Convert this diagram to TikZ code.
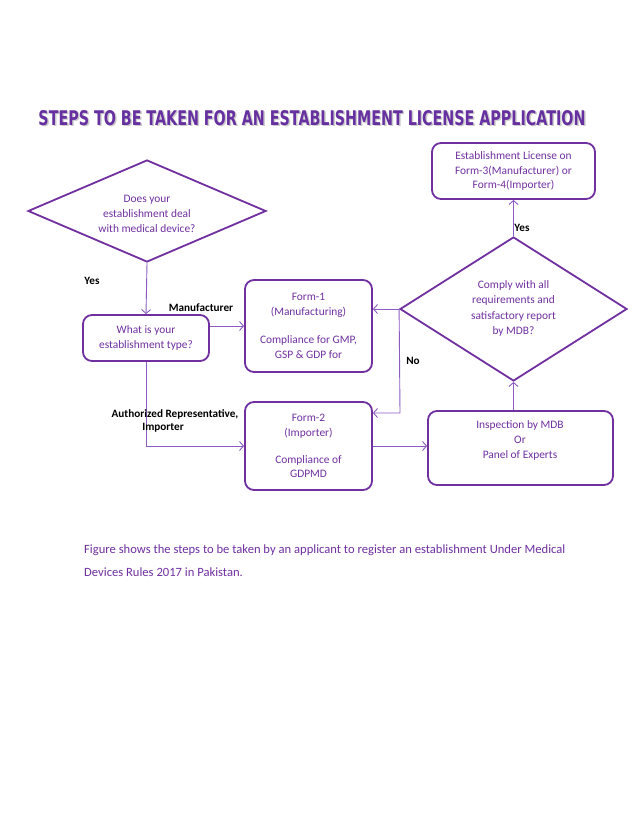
\documentclass[tikz,border=0pt]{standalone}
\usepackage{fontspec}
\setmainfont{Carlito}
\newfontfamily\titlefont{DejaVu Sans}
\usetikzlibrary{shapes.geometric,arrows.meta}
\definecolor{pur}{HTML}{7030A0}
\definecolor{purl}{HTML}{8C5CC4}
\definecolor{titlec}{HTML}{6630A0}
\newcommand\fsz{\fontsize{11.4}{14.7}\selectfont}
\newcommand\lsz{\fontsize{11.2}{13.5}\selectfont\bfseries}
\newcommand\ttl{STEPS TO BE TAKEN FOR AN ESTABLISHMENT LICENSE APPLICATION}
\begin{document}
\begin{tikzpicture}[x=1pt,y=-1pt,
  box/.style={draw=pur,line width=1.8pt,rounded corners=9pt,text=pur,font=\fsz,align=center,inner sep=0pt},
  dia/.style={draw=pur,line width=1.8pt,diamond,inner sep=0pt},
  txt/.style={text=pur,font=\fsz,align=center,inner sep=0pt},
  conn/.style={draw=purl,line width=0.9pt,-{Straight Barb[length=4pt,width=9pt]}},
  lbl/.style={font=\lsz,text=black,inner sep=0pt}]
\useasboundingbox[fill=white] (0,0) rectangle (638,826);
% title
\node[inner sep=0pt,text=gray!40] (titleshadow) at (313.5,119.5) {\resizebox{547pt}{15pt}{\titlefont\bfseries\ttl}};
\node[inner sep=0pt,text=titlec] (title) at (312,118) {\resizebox{547pt}{15pt}{\titlefont\bfseries\ttl}};
% nodes
\node[dia,minimum width=238pt,minimum height=102pt] (d1) at (147,211) {};
\node[txt] (d1t) at (147,214) {Does your\\establishment deal\\with medical device?};
\node[box,minimum width=126pt,minimum height=46pt] (q) at (146,338) {What is your\\establishment type?};
\node[box,minimum width=127pt,minimum height=92pt] (f1) at (308.5,326) {Form-1\\(Manufacturing)\\[14pt]Compliance for GMP,\\GSP \& GDP for};
\node[box,minimum width=127pt,minimum height=88pt] (f2) at (308.5,446) {Form-2\\(Importer)\\[12pt]Compliance of\\GDPMD};
\node[box,minimum width=185pt,minimum height=74pt] (insp) at (520.5,448) {};
\node[txt] (insptext) at (520,440.5) {Inspection by MDB\\Or\\Panel of Experts};
\node[dia,minimum width=227pt,minimum height=144pt] (d2) at (513.5,309) {};
\node[txt,font=\fontsize{11.4}{15.6}\selectfont] (d2t) at (513.5,308.5) {Comply with all\\requirements and\\satisfactory report\\by MDB?};
\node[box,minimum width=163pt,minimum height=56pt] (top) at (513.5,171) {Establishment License on\\Form-3(Manufacturer) or\\Form-4(Importer)};
\coordinate (nobend) at (400,413);
% connectors
\draw[conn] (d1.south) -- (q.north);
\draw[conn] (q.east|-f1.west) -- (f1.west);
\draw[conn] (q.south) |- (f2.west);
\draw[conn] (f2.east) -- (insp.west|-f2.east);
\draw[conn] (insp.north-|d2.south) -- (d2.south);
\draw[conn] (d2.north) -- (top.south);
\draw[conn] (d2.west) -- (f1.east|-d2.west);
\draw[conn] (d2.west) -- (nobend) -- (f2.east|-nobend);
% labels
\node[lbl] (yes1) at (92,281) {Yes};
\node[lbl] (man) at (201,308) {Manufacturer};
\node[lbl] (auth) at (175,414) {Authorized Representative,};
\node[lbl] (imp) at (163,428) {Importer};
\node[lbl] (no) at (413,361) {No};
\node[lbl] (yes2) at (522,228) {Yes};
% caption
\node[anchor=west,text=pur,font=\fontsize{12.6}{15}\selectfont,inner sep=0pt] (cap1) at (84,550) {Figure shows the steps to be taken by an applicant to register an establishment Under Medical};
\node[anchor=west,text=pur,font=\fontsize{12.6}{15}\selectfont,inner sep=0pt] (cap2) at (84,572) {Devices Rules 2017 in Pakistan.};
\end{tikzpicture}
\end{document}
